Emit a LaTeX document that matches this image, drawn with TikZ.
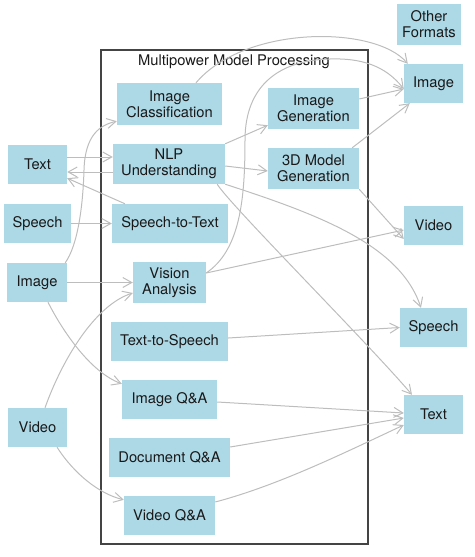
\documentclass[tikz,border=0pt]{standalone}
\usepackage{fontspec}
\setmainfont{TeX Gyre Heros}
\usetikzlibrary{arrows.meta}
\definecolor{boxblue}{HTML}{ADD8E6}
\definecolor{edgegray}{HTML}{BDBDBD}
\definecolor{clusterline}{HTML}{444444}
\begin{document}
\begin{tikzpicture}[x=1pt,y=-1pt,
  box/.style={rectangle, fill=boxblue, draw=none, inner sep=0pt, align=center,
    font=\fontsize{14.7}{16}\selectfont, text=black!90},
  conn/.style={draw=edgegray, line width=1pt,
    -{Straight Barb[length=9pt,width=10pt,line width=1pt]}},
  clusterbox/.style={draw=clusterline, line width=1.3pt},
  clusterlabel/.style={font=\fontsize{14.7}{16}\selectfont, text=black!90}]
\useasboundingbox (0,0) rectangle (474,557);
% cluster
\draw[clusterbox] (101,50) rectangle (368,544);
\node[clusterlabel] (cl) at (234,62) {Multipower Model Processing};
% input nodes
\node[box, minimum width=59pt, minimum height=39pt] (itext) at (37.5,164.5) {Text};
\node[box, minimum width=67pt, minimum height=39pt] (ispeech) at (37.5,223.5) {Speech};
\node[box, minimum width=60pt, minimum height=39pt] (iimage) at (37,282.5) {Image};
\node[box, minimum width=59pt, minimum height=39pt] (ivideo) at (37.5,427.5) {Video};
% processing nodes
\node[box, minimum width=105pt, minimum height=42pt] (ic) at (169.5,104) {Image\\Classification};
\node[box, minimum width=112pt, minimum height=40pt] (nlp) at (169,164) {NLP\\Understanding};
\node[box, minimum width=116pt, minimum height=39pt] (stt) at (170,223.5) {Speech-to-Text};
\node[box, minimum width=73pt, minimum height=41pt] (va) at (169.5,282.5) {Vision\\Analysis};
\node[box, minimum width=117pt, minimum height=39pt] (tts) at (169.5,341.5) {Text-to-Speech};
\node[box, minimum width=95pt, minimum height=39pt] (iqa) at (169.5,399.5) {Image Q\&A};
\node[box, minimum width=121pt, minimum height=39pt] (dqa) at (169.5,457.5) {Document Q\&A};
\node[box, minimum width=91pt, minimum height=39pt] (vqa) at (169.5,515.5) {Video Q\&A};
\node[box, minimum width=91pt, minimum height=41pt] (ig) at (313.5,108.5) {Image\\Generation};
\node[box, minimum width=91pt, minimum height=41pt] (m3d) at (313.5,168.5) {3D Model\\Generation};
% output nodes
\node[box, minimum width=64pt, minimum height=41pt] (of) at (429,24.5) {Other\\Formats};
\node[box, minimum width=59pt, minimum height=39pt] (oimg) at (433.5,83.5) {Image};
\node[box, minimum width=59pt, minimum height=39pt] (ovideo) at (433.5,225.5) {Video};
\node[box, minimum width=67pt, minimum height=39pt] (ospeech) at (433.5,327.5) {Speech};
\node[box, minimum width=59pt, minimum height=39pt] (otext) at (433.5,414.5) {Text};
% edges: inputs
\draw[conn] ([yshift=7.5pt]itext.east) -- ([yshift=7pt]nlp.west);
\draw[conn] ([yshift=-8pt]nlp.west) -- ([yshift=-7.5pt]itext.east);
\draw[conn] ([xshift=-45pt]stt.north) -- ([yshift=6pt]itext.south east);
\draw[conn] (ispeech.east) -- (stt.west);
\draw[conn] ([xshift=-2pt]iimage.north east) .. controls (78,245) and (83,205) .. (84,170)
  .. controls (85,135) and (100,125) .. ([yshift=4pt]ic.south west);
\draw[conn] (iimage.east) -- (va.west);
\draw[conn] ([xshift=11pt]iimage.south) .. controls (62,330) and (90,372) .. ([yshift=-4pt]iqa.north west);
\draw[conn] ([xshift=7.5pt]ivideo.north) .. controls (62,360) and (95,305) .. ([yshift=-10.5pt]va.west);
\draw[conn] ([xshift=19.5pt]ivideo.south) .. controls (75,475) and (100,494) .. ([yshift=-4pt]vqa.north west);
% edges: processing to outputs
\draw[conn] ([xshift=26.5pt]ic.north) .. controls (245,25) and (375,25) .. ([xshift=4pt]oimg.north west);
\draw[conn] ([yshift=9.5pt]va.east) .. controls (240,250) and (245,200) .. (245,140)
  .. controls (245,85) and (280,60) .. (330,59)
  .. controls (360,58) and (385,65) .. ([yshift=-5.5pt]oimg.west);
\draw[conn] ([yshift=9.5pt]ig.east) -- ([yshift=-5.5pt]oimg.west);
\draw[conn] ([xshift=-7pt]m3d.north east) -- ([xshift=6pt]oimg.south west);
\draw[conn] (nlp.north east) -- ([yshift=4pt]ig.south west);
\draw[conn] ([yshift=-2pt]nlp.east) -- ([yshift=-2.5pt]m3d.west);
\draw[conn] (nlp.south east) .. controls (320,215) and (400,245) .. ([xshift=-12.5pt]ospeech.north);
\draw[conn] ([xshift=-8pt]nlp.south east) .. controls (230,205) and (370,345) .. ([xshift=-21.5pt]otext.north);
\draw[conn] (m3d.south east) -- ([yshift=-13.5pt]ovideo.west);
\draw[conn] ([yshift=9.5pt]va.east) -- ([yshift=-4.5pt]ovideo.west);
\draw[conn] ([yshift=3.5pt]tts.east) -- (ospeech.west);
\draw[conn] ([yshift=-2.5pt]iqa.east) -- ([yshift=1.5pt]otext.west);
\draw[conn] ([yshift=10.5pt]dqa.east) -- ([yshift=-3.5pt]otext.west);
\draw[conn] ([yshift=13.5pt]vqa.east) .. controls (280,485) and (350,450) .. ([yshift=-10.5pt]otext.west);
\end{tikzpicture}
\end{document}
